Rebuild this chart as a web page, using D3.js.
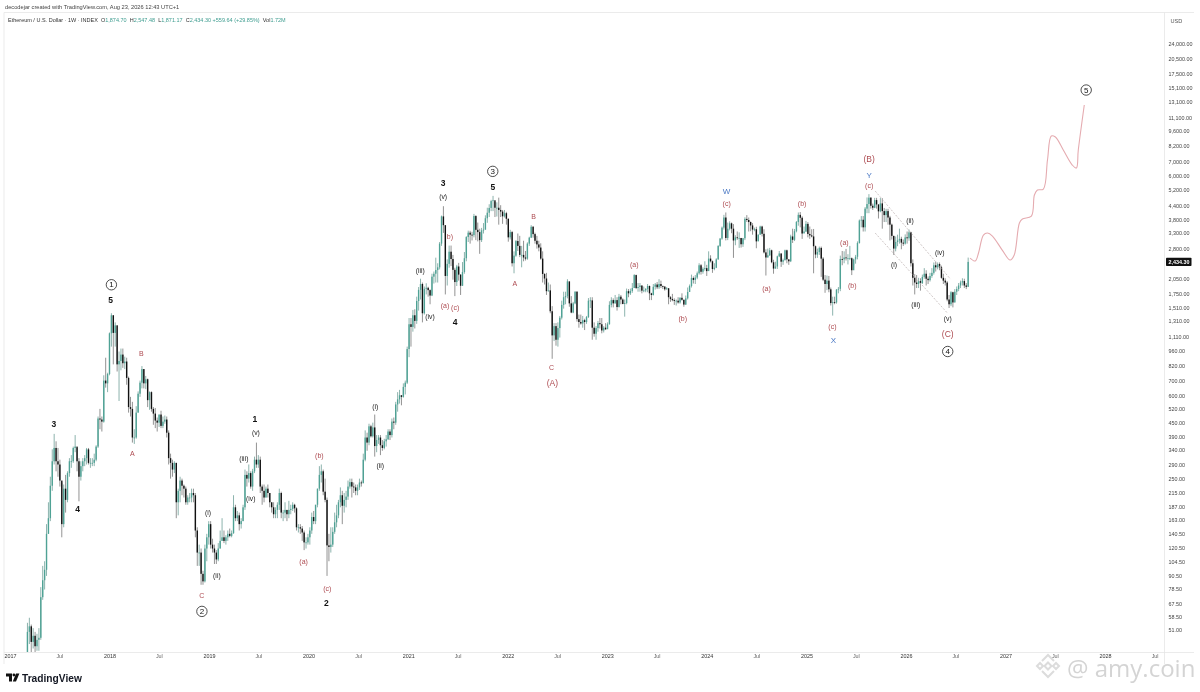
<!DOCTYPE html>
<html>
<head>
<meta charset="utf-8">
<title>Ethereum / U.S. Dollar 1W</title>
<script src="https://cdn.jsdelivr.net/npm/d3@7"></script>
<style>
  html, body { margin: 0; padding: 0; background: #fff; overflow: hidden; }
  text { font-family: "Liberation Sans", Roboto, sans-serif; }
  /* the reference is a soft jpeg, this also stops coloured fringes on small text */
  svg { filter: blur(0.25px); }
</style>
</head>
<body>
<script>
// weekly closes, one line per year (first week is 2017-03-06)
var closes = [
  50,53,45,48,43,46,47,72,86,96,140,165,232,300,345,300,290,245,155,225,200,265,300,300,345,350,300,255,285,300,310,340,295,295,295,305,350,470,465,455,700,680,750,
  1150,1390,1155,1250,830,860,920,840,855,720,530,520,385,385,500,610,685,790,680,710,570,620,520,495,460,450,490,435,455,465,405,310,295,275,295,195,220,245,232,225,195,205,205,215,210,145,115,115,92,85,120,135,
  155,125,120,115,107,120,130,135,130,135,140,137,141,185,165,170,155,160,185,260,250,265,230,270,305,290,305,230,220,205,225,215,195,185,172,180,190,215,175,175,180,172,180,182,190,183,150,150,148,142,128,128,
  135,145,167,160,190,225,260,270,218,200,124,122,125,143,158,170,195,210,188,200,207,230,241,230,228,220,228,240,238,305,385,365,433,390,428,352,375,385,355,345,370,378,410,395,455,450,545,575,600,590,655,685,975,
  1265,1230,1390,1310,1615,1815,1930,1420,1835,1855,1810,1710,2085,2150,2235,2300,2950,3925,3580,2100,2385,2710,2510,2240,1970,2320,2130,1895,2190,2530,3160,3310,3240,3225,3940,3410,3330,3060,3390,3415,3850,4080,4290,4610,4650,4300,4300,4200,4130,3930,4060,3830,
  3150,3330,2400,2600,3030,2880,2620,2620,2550,2520,2950,3140,3520,3260,3040,2925,2830,2520,2145,2045,1790,1805,1450,1125,1240,1075,1215,1355,1550,1680,1700,1985,1575,1430,1575,1780,1335,1295,1275,1320,1295,1365,1620,1625,1220,1145,1215,1280,1265,1185,1220,1200,
  1265,1550,1630,1575,1630,1515,1690,1640,1565,1580,1790,1750,1795,1850,2120,1850,1870,1900,1800,1805,1830,1890,1750,1720,1875,1920,1865,1930,1890,1880,1825,1845,1680,1650,1630,1615,1620,1590,1670,1635,1555,1660,1775,1890,2055,2015,2065,2160,2350,2195,2265,2280,
  2210,2520,2450,2260,2290,2500,2880,3110,3490,3880,3130,3450,3650,3450,3050,3150,3130,3130,2930,3120,3825,3780,3700,3570,3420,3430,3020,3240,3530,3270,2690,2550,2610,2750,2425,2270,2320,2580,2660,2440,2480,2750,2500,2450,3180,3070,3360,3700,3990,3870,3280,3350,
  3630,3265,3215,3180,2870,2630,2700,2820,2520,2020,1930,2000,1825,1580,1595,1590,1820,1835,2510,2500,2550,2530,2530,2530,2230,2500,2570,2970,3760,3790,3500,4260,4470,4780,4390,4300,4660,4450,4140,4500,4150,3980,4150,3880,3600,3200,2800,3000,3050,3100,2980,2950,
  3150,3120,3320,2400,2060,1960,1930,1990,1950,2080,2150,2040,2010,2100,2170,2350,2300,2380,2300,2060,2000,1960,1640,1560,1770,1590,1780,1830,1900,1960,1990,1900,1874.7,2434.3
];
var highs = [
  55,58,54,52,50,49,52,80,100,105,155,195,255,340,400,370,345,305,240,235,260,270,310,320,350,395,345,310,300,310,320,345,345,310,310,325,355,480,520,480,740,890,760,
  1160,1420,1390,1290,1250,950,980,980,900,890,730,590,560,420,535,625,700,815,790,735,715,625,625,530,525,475,490,510,480,485,480,415,325,305,300,295,225,255,250,235,230,210,215,225,225,215,150,125,120,95,125,140,
  160,160,133,125,118,127,145,165,145,138,145,148,145,210,190,178,175,165,190,275,270,290,270,277,315,365,320,315,235,235,230,235,215,195,195,185,195,225,218,180,195,180,198,190,195,192,185,155,155,152,145,135,
  140,150,175,178,190,225,285,290,275,250,205,140,150,150,175,190,200,228,220,215,220,245,250,250,240,235,235,250,245,325,415,405,445,440,450,490,395,395,395,375,380,395,420,420,470,475,560,620,635,600,680,700,1000,
  1350,1350,1470,1480,1690,1870,2040,1960,1880,1945,1875,1825,2150,2200,2545,2400,3000,3960,4370,3580,2500,2890,2890,2620,2290,2360,2410,2140,2430,2700,3190,3380,3375,3340,4030,3975,3680,3450,3480,3660,3970,4300,4460,4670,4870,4570,4550,4780,4415,4200,4200,4120,
  3840,3410,3370,2720,3060,3280,3200,2880,3040,2730,2990,3170,3580,3550,3310,3200,3040,2960,2720,2160,2170,1960,1920,1530,1280,1280,1290,1380,1620,1780,1780,2030,1960,1700,1600,1790,1790,1400,1400,1380,1340,1380,1665,1680,1680,1290,1240,1310,1350,1350,1240,1280,
  1290,1610,1680,1660,1720,1680,1740,1720,1660,1640,1840,1830,1840,1950,2140,2130,1950,1950,1900,1880,1850,1930,1900,1760,1930,1950,1970,2030,2000,1900,1880,1870,1850,1700,1740,1660,1640,1680,1680,1750,1640,1710,1860,1920,2130,2090,2120,2200,2400,2380,2300,2450,
  2360,2720,2610,2470,2400,2530,2900,3130,3530,3990,4090,3680,3730,3680,3620,3220,3350,3320,3130,3130,3890,3980,3880,3720,3660,3490,3520,3250,3560,3560,3430,2780,2800,2820,2770,2490,2440,2600,2730,2660,2520,2770,2770,2500,3240,3450,3440,3740,4090,4110,3930,3530,
  3745,3700,3530,3430,3440,2890,2800,2860,2860,2560,2120,2110,2100,1860,1690,1690,1830,1870,2600,2730,2720,2790,2640,2880,2550,2520,2620,3020,3800,3940,3940,4330,4790,4960,4800,4490,4770,4770,4460,4760,4755,4290,4250,4250,3950,3640,3200,3180,3240,3450,3170,3080,
  3250,3350,3420,3340,2500,2140,2120,2060,2050,2130,2280,2230,2090,2170,2280,2420,2440,2420,2420,2340,2150,2050,1990,1720,1790,1780,1830,1880,1950,2000,2050,2040,1950,2547.48
];
var lows = [
  30,44,40,42,38,41,41,46,70,78,90,140,160,220,290,270,255,230,135,150,175,195,255,280,295,330,270,197,245,270,285,290,290,280,285,285,300,345,420,410,450,650,620,
  740,1000,830,1000,770,565,780,800,790,670,500,480,365,360,380,500,590,645,645,640,530,515,505,440,425,410,430,425,425,445,385,290,250,255,265,165,170,195,210,205,190,190,195,195,195,135,100,100,82,82,84,105,
  125,120,115,102,102,105,120,130,127,125,130,135,135,140,160,160,145,148,160,180,230,240,225,220,265,280,280,215,190,195,205,205,185,175,165,165,165,180,165,160,165,160,165,172,178,175,145,142,140,130,118,120,
  125,125,140,155,155,185,220,240,210,195,90,105,115,122,140,150,165,185,155,175,185,200,225,205,215,210,210,222,230,240,300,335,355,385,385,315,330,360,320,335,340,350,375,375,385,420,440,505,550,540,585,605,675,
  895,1000,1170,1210,1270,1460,1640,1290,1400,1730,1690,1560,1700,1940,1960,1960,2250,2880,3300,1730,1900,2290,2330,2020,1700,1890,2000,1720,1890,2150,2450,3000,2950,3050,3150,3060,3020,2650,3000,3280,3420,3670,3900,4150,4150,3900,3920,3600,3900,3630,3880,3600,
  3010,3080,2320,2160,2570,2730,2560,2300,2450,2470,2490,2880,3130,3140,2950,2800,2720,2490,1960,1920,1720,1780,1420,880,1060,1010,1000,1100,1330,1490,1560,1660,1520,1420,1420,1560,1300,1220,1260,1220,1190,1270,1350,1500,1075,1110,1075,1170,1210,1150,1160,1190,
  1210,1260,1510,1510,1570,1460,1510,1560,1560,1370,1560,1680,1720,1760,1850,1830,1780,1780,1750,1770,1770,1770,1630,1630,1710,1820,1830,1830,1850,1830,1800,1820,1560,1600,1610,1550,1540,1570,1570,1620,1520,1550,1640,1780,1860,1940,1930,2030,2130,2130,2150,2220,
  2100,2420,2420,2170,2230,2280,2490,2850,3070,3420,3050,3060,3390,3290,2540,2900,3070,2820,2830,2850,3060,3700,3350,3360,3240,3360,2810,3030,3240,3180,2660,2110,2550,2590,2400,2150,2270,2260,2560,2310,2360,2470,2400,2360,2430,2970,3030,3320,3560,3500,3100,3300,
  3330,3150,3100,3150,2160,2530,2540,2620,2080,1990,1760,1810,1770,1540,1385,1560,1570,1750,1790,2350,2400,2470,2370,2480,2120,2360,2390,2500,2950,3500,3350,3350,4060,4060,4260,4200,4280,4260,3840,4100,3450,3700,3700,3600,3050,3080,2620,2720,2870,2950,2780,2880,
  2920,2950,3040,2320,1900,1730,1850,1850,1800,1930,2040,1900,1930,1980,2060,2130,2200,2250,2230,2040,1930,1900,1610,1500,1530,1510,1590,1720,1790,1850,1900,1850,1830,1871.17
];
var firstWeek = new Date(2017, 2, 6);
var firstOpen = 24;

var priceTicks = [24000,20500,17500,15100,13100,11100,9600,8200,7000,6000,5200,4400,3800,3300,2800,2050,1750,1510,1310,1110,960,820,700,600,520,450,390,340,290,250,215,187,163,140.5,120.5,104.5,90.5,78.5,67.5,58.5,51];
var lastPrice = 2434.3;
var yearTicks = [2017,2018,2019,2020,2021,2022,2023,2024,2025,2026,2027,2028];

// projected path of wave 5
var pathDates = ['2026-08-24','2026-09-12','2026-09-24','2026-10-12','2026-10-27','2026-11-14','2026-12-20','2027-01-18','2027-02-02','2027-02-21','2027-03-04','2027-04-06','2027-04-17','2027-04-28','2027-05-20','2027-06-04','2027-06-18','2027-07-03','2027-08-01','2027-09-03','2027-09-18','2027-09-25','2027-10-17'];
var pathPrices = [2534,2457,2672,3227,3296,3194,2757,2482,2616,3662,3818,3940,4913,5177,5234,7097,9132,9036,7884,6732,6521,7884,12643];

// the falling channel, [start date, start price, end date, end price]
var channelLines = [
  ['2025-09-10',5124,'2026-06-13',2033],
  ['2025-09-10',3296,'2026-06-02',1422]
];

// wave labels: [text, decimal year, price]
var digitLabels = [['3',2017.44,445],['4',2017.68,181],['5',2018.01,1625],['1',2019.46,470],['2',2020.18,67.5],['3',2021.35,5600],['4',2021.47,1295],['5',2021.85,5360]];
var romanLabels = [['(i)',2018.99,176],['(ii)',2019.08,90.5],['(v)',2019.47,405],['(iii)',2019.35,310],['(iv)',2019.42,202],['(i)',2020.67,535],['(ii)',2020.72,288],['(iii)',2021.12,2230],['(iv)',2021.22,1365],['(v)',2021.35,4830],['(i)',2025.88,2360],['(ii)',2026.04,3760],['(iii)',2026.10,1560],['(iv)',2026.34,2680],['(v)',2026.42,1350]];
var redLabels = [['B',2018.32,930],['A',2018.23,325],['C',2018.93,73],['(b)',2020.11,320],['(a)',2019.95,104.5],['(c)',2020.19,79],['b)',2021.42,3170],['(a)',2021.37,1540],['(c)',2021.47,1510],['B',2022.26,3930],['A',2022.07,1945],['C',2022.44,805],['(a)',2023.27,2360],['(b)',2023.76,1350],['(c)',2024.20,4500],['(b)',2024.96,4500],['(a)',2024.60,1835],['(c)',2025.26,1230],['(a)',2025.38,3000],['(b)',2025.46,1900],['(c)',2025.63,5420]];
var bigRedLabels = [['(A)',2022.45,680],['(B)',2025.63,7150],['(C)',2026.42,1145]];
var blueLabels = [['W',2024.20,5100],['X',2025.27,1068],['Y',2025.63,6060]];
var ringLabels = [['1',2018.02,1915],['2',2018.93,62],['3',2021.85,6300],['4',2026.42,950],['5',2027.81,14800]];

var legendParts = [['Ethereum / U.S. Dollar · 1W · INDEX  ',false],['O',false],['1,874.70  ',true],['H',false],['2,547.48  ',true],['L',false],['1,871.17  ',true],['C',false],['2,434.30 +559.64 (+29.85%)  ',true],['Vol',false],['1.72M',true]];

var width = 1200;
var height = 692;
var teal = '#4fa295';
var dark = '#111';
var red = '#ad4a50';

var svg = d3.select('body').append('svg')
  .attr('width', width)
  .attr('height', height)
  .style('display', 'block');

var x = d3.scaleTime()
  .domain([new Date(2017, 0, 1), new Date(2028, 0, 1)])
  .range([10, 1105]);
var y = d3.scaleLog()
  .domain([51, 24000])
  .range([630, 44]);

var yearDate = function(v) {
  var yr = Math.floor(v);
  return new Date(yr, 0, 1 + Math.round((v - yr) * 365));
};

svg.append('clipPath').attr('id', 'plot').append('rect')
  .attr('x', 5).attr('y', 13).attr('width', 1158).attr('height', 639);

// frame
var frame = svg.append('g').attr('stroke', '#e6e6e6').attr('stroke-width', 0.8);
frame.append('line').attr('x1', 4).attr('x2', 1194).attr('y1', 12.5).attr('y2', 12.5);
frame.append('line').attr('x1', 4).attr('x2', 4).attr('y1', 12.5).attr('y2', 664);
frame.append('line').attr('x1', 4).attr('x2', 1194).attr('y1', 652.5).attr('y2', 652.5);
frame.append('line').attr('x1', 1164.5).attr('x2', 1164.5).attr('y1', 12.5).attr('y2', 664);

// candles
var candles = closes.map(function(c, i) {
  return {
    date: d3.timeWeek.offset(firstWeek, i),
    open: i ? closes[i - 1] : firstOpen,
    close: c,
    high: highs[i],
    low: lows[i]
  };
});

var plot = svg.append('g').attr('clip-path', 'url(#plot)');

plot.append('g').selectAll('line')
  .data(candles)
  .enter().append('line')
  .attr('x1', function(d) { return x(d.date); })
  .attr('x2', function(d) { return x(d.date); })
  .attr('y1', function(d) { return y(d.high); })
  .attr('y2', function(d) { return y(d.low); })
  .attr('stroke', function(d) { return d.close >= d.open ? '#6f9f98' : '#777'; })
  .attr('stroke-width', 0.8);

plot.append('g').selectAll('rect')
  .data(candles)
  .enter().append('rect')
  .attr('x', function(d) { return x(d.date) - 0.7; })
  .attr('width', 1.4)
  .attr('y', function(d) { return y(Math.max(d.open, d.close)); })
  .attr('height', function(d) { return Math.max(0.8, Math.abs(y(d.open) - y(d.close))); })
  .attr('fill', function(d) { return d.close >= d.open ? teal : dark; });

// channel
plot.append('g').selectAll('line')
  .data(channelLines)
  .enter().append('line')
  .attr('x1', function(d) { return x(new Date(d[0])); })
  .attr('y1', function(d) { return y(d[1]); })
  .attr('x2', function(d) { return x(new Date(d[2])); })
  .attr('y2', function(d) { return y(d[3]); })
  .attr('stroke', '#b9adad')
  .attr('stroke-width', 0.7)
  .attr('stroke-dasharray', '2,1.5');

// projection
var pathLine = d3.line()
  .x(function(d) { return x(new Date(d)); })
  .y(function(d, i) { return y(pathPrices[i]); })
  .curve(d3.curveCatmullRom.alpha(0.5));

plot.append('path')
  .attr('d', pathLine(pathDates))
  .attr('fill', 'none')
  .attr('stroke', '#e5abb0')
  .attr('stroke-width', 1.1);

// wave labels
var drawLabels = function(list, color, size, weight) {
  svg.append('g').selectAll('text')
    .data(list)
    .enter().append('text')
    .attr('x', function(d) { return x(yearDate(d[1])); })
    .attr('y', function(d) { return y(d[2]); })
    .attr('text-anchor', 'middle')
    .attr('dominant-baseline', 'central')
    .attr('fill', color)
    .attr('font-size', size)
    .attr('font-weight', weight)
    .text(function(d) { return d[0]; });
};

svg.append('g').selectAll('circle')
  .data(ringLabels)
  .enter().append('circle')
  .attr('cx', function(d) { return x(yearDate(d[1])); })
  .attr('cy', function(d) { return y(d[2]); })
  .attr('r', 5.2)
  .attr('fill', '#fff')
  .attr('stroke', '#222')
  .attr('stroke-width', 0.8);

drawLabels(ringLabels, '#111', 8, 'normal');
drawLabels(digitLabels, '#111', 8.5, 'bold');
drawLabels(romanLabels, '#222', 6.8, 'normal');
drawLabels(redLabels, red, 7, 'normal');
drawLabels(bigRedLabels, red, 8.5, 'normal');
drawLabels(blueLabels, '#4a78c4', 8, 'normal');

// price axis
var yAxis = d3.axisRight(y)
  .tickValues(priceTicks)
  .tickSize(0)
  .tickPadding(0)
  .tickFormat(d3.format(',.2f'));

svg.append('g')
  .attr('transform', 'translate(1168.5,0)')
  .call(yAxis)
  .call(function(g) { g.select('.domain').remove(); })
  .selectAll('text')
  .attr('font-size', 5.4)
  .attr('fill', '#444')
  .style('font-family', '"Liberation Sans", Roboto, sans-serif');

svg.append('rect')
  .attr('x', 1166).attr('y', y(lastPrice) - 4.2).attr('width', 25.5).attr('height', 8.4)
  .attr('rx', 0.8)
  .attr('fill', '#111');
svg.append('text')
  .attr('x', 1168.5).attr('y', y(lastPrice))
  .attr('dominant-baseline', 'central')
  .attr('font-size', 5.4)
  .attr('font-weight', 'bold')
  .attr('fill', '#fff')
  .text(d3.format(',.2f')(lastPrice));

svg.append('text')
  .attr('x', 1170.5).attr('y', 20.5)
  .attr('dominant-baseline', 'central')
  .attr('font-size', 5.6)
  .attr('fill', '#555')
  .text('USD');

// time axis
var timeTicks = [];
yearTicks.forEach(function(yr) {
  timeTicks.push(new Date(yr, 0, 1));
  timeTicks.push(new Date(yr, 6, 1));
});

var xAxis = d3.axisBottom(x)
  .tickValues(timeTicks)
  .tickSize(0)
  .tickPadding(1.5)
  .tickFormat(function(d) { return d.getMonth() === 0 ? d.getFullYear() : 'Jul'; });

svg.append('g')
  .attr('transform', 'translate(0,652.5)')
  .call(xAxis)
  .call(function(g) { g.select('.domain').remove(); })
  .selectAll('text')
  .attr('font-size', 5.4)
  .attr('fill', function(d) { return d.getMonth() === 0 ? '#333' : '#666'; })
  .style('font-family', '"Liberation Sans", Roboto, sans-serif');

// header and legend
svg.append('text')
  .attr('x', 5).attr('y', 6.5)
  .attr('dominant-baseline', 'central')
  .attr('font-size', 5.7)
  .attr('fill', '#444')
  .text('decodejar created with TradingView.com, Aug 23, 2026 12:43 UTC+1');

var legend = svg.append('text')
  .attr('x', 8).attr('y', 19.5)
  .attr('dominant-baseline', 'central')
  .attr('font-size', 5.5)
  .style('white-space', 'pre');
legend.selectAll('tspan')
  .data(legendParts)
  .enter().append('tspan')
  .attr('fill', function(d) { return d[1] ? '#3f9d90' : '#333'; })
  .text(function(d) { return d[0]; });

// TradingView mark
var logo = svg.append('g').attr('transform', 'translate(6,673.5)').attr('fill', '#111');
logo.append('path').attr('d', 'M0 0H6V8H3V3H0Z');
logo.append('circle').attr('cx', 7.9).attr('cy', 1.5).attr('r', 1.4);
logo.append('path').attr('d', 'M10 0H13.4L10 8H6.8Z');
svg.append('text')
  .attr('x', 22).attr('y', 678)
  .attr('dominant-baseline', 'central')
  .attr('font-size', 10.2)
  .attr('font-weight', 'bold')
  .attr('fill', '#131722')
  .text('TradingView');

// watermark
var mark = svg.append('g')
  .attr('transform', 'translate(1048,666)')
  .attr('fill', 'none')
  .attr('stroke', '#dcdcdc')
  .attr('stroke-width', 2);
mark.append('path').attr('d', 'M-6 -5L0 -11L6 -5');
mark.append('path').attr('d', 'M-6 5L0 11L6 5');
mark.append('path').attr('d', 'M-11 0L-8 -3L-5 0L-8 3Z');
mark.append('path').attr('d', 'M11 0L8 -3L5 0L8 3Z');
mark.append('path').attr('d', 'M0 -3.5L3.5 0L0 3.5L-3.5 0Z');

svg.append('text')
  .attr('x', 1067).attr('y', 667)
  .attr('dominant-baseline', 'central')
  .attr('font-size', 24)
  .attr('fill', '#d4d4d4')
  .style('font-family', '"Open Sans", sans-serif')
  .text('@ amy.coin');
</script>
</body>
</html>
